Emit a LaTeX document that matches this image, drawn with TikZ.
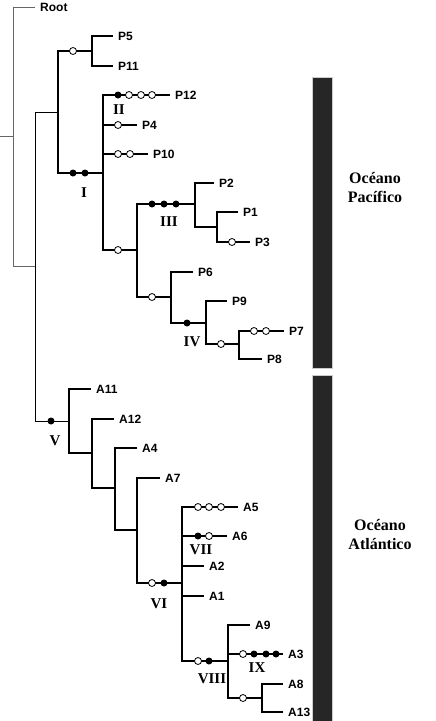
\documentclass[tikz,border=0pt]{standalone}
\usepackage{fontspec}
\setmainfont{Liberation Serif}
\newfontfamily\lsans{Liberation Sans}
\begin{document}
\begin{tikzpicture}[x=1pt,y=-1pt,
  br/.style={line width=1.3pt, black},
  rootbr/.style={line width=0.9pt, black!60},
  leaf/.style={anchor=west, inner xsep=5pt, inner ysep=0pt, font=\lsans\bfseries\fontsize{12}{14}\selectfont},
  oc/.style={circle, draw=black, fill=white, line width=0.8pt, minimum size=7pt, inner sep=0pt},
  bc/.style={circle, fill=black, minimum size=7pt, inner sep=0pt},
  clade/.style={font=\bfseries\fontsize{15}{17}\selectfont, inner sep=0pt},
  ocean/.style={font=\bfseries\fontsize{16}{19}\selectfont, align=center, inner sep=0pt},
  bar/.style={fill=black!85, draw=black!20, line width=0.4pt}]
\useasboundingbox (0,0) rectangle (436,721);

% internal nodes
\coordinate (rs) at (0,136);
\coordinate (r) at (13,136);
\coordinate (n0) at (35,266);
\coordinate (pac) at (58,112);
\coordinate (atl) at (69,421);
\coordinate (p511) at (92,51);
\coordinate (nI) at (103,173);
\coordinate (nB) at (137,250);
\coordinate (nIII) at (195,204);
\coordinate (nD) at (217,227);
\coordinate (nC) at (171,297);
\coordinate (nIV) at (206,323);
\coordinate (nE) at (239,344);
\coordinate (a2) at (92,453);
\coordinate (a3) at (115,488);
\coordinate (a4) at (137,530);
\coordinate (nVI) at (182,583);
\coordinate (nVIII) at (228,661);
\coordinate (nF) at (262,698);

% leaves
\node[leaf] (Root) at (35,7) {Root};
\node[leaf] (P5) at (113,36) {P5};
\node[leaf] (P11) at (113,66) {P11};
\node[leaf] (P12) at (170,95) {P12};
\node[leaf] (P4) at (137,125) {P4};
\node[leaf] (P10) at (148,154) {P10};
\node[leaf] (P2) at (214,183) {P2};
\node[leaf] (P1) at (238,212) {P1};
\node[leaf] (P3) at (250,242) {P3};
\node[leaf] (P6) at (193,272) {P6};
\node[leaf] (P9) at (227,301) {P9};
\node[leaf] (P7) at (284,331) {P7};
\node[leaf] (P8) at (262,359) {P8};
\node[leaf] (A11) at (91,389) {A11};
\node[leaf] (A12) at (114,419) {A12};
\node[leaf] (A4) at (137,448) {A4};
\node[leaf] (A7) at (160,478) {A7};
\node[leaf] (A5) at (238,507) {A5};
\node[leaf] (A6) at (227,536) {A6};
\node[leaf] (A2) at (204,566) {A2};
\node[leaf] (A1) at (204,596) {A1};
\node[leaf] (A9) at (250,625) {A9};
\node[leaf] (A3) at (283,654) {A3};
\node[leaf] (A8) at (283,684) {A8};
\node[leaf] (A13) at (283,712) {A13};

% root branches
\draw[rootbr] (rs) -- (r);
\draw[rootbr] (r) |- (Root.west);
\draw[rootbr] (r) |- (n0);
\draw[br, line width=1pt] (n0) |- (pac);
\draw[br, line width=1pt] (n0) |- (atl);

% Pacific
\draw[br] (pac) |- (p511);
\draw[br] (pac) |- (nI);
\draw[br] (p511) |- (P5.west);
\draw[br] (p511) |- (P11.west);
\draw[br] (nI) |- (P12.west);
\draw[br] (nI) |- (P4.west);
\draw[br] (nI) |- (P10.west);
\draw[br] (nI) |- (nB);
\draw[br] (nB) |- (nIII);
\draw[br] (nB) |- (nC);
\draw[br] (nIII) |- (P2.west);
\draw[br] (nIII) |- (nD);
\draw[br] (nD) |- (P1.west);
\draw[br] (nD) |- (P3.west);
\draw[br] (nC) |- (P6.west);
\draw[br] (nC) |- (nIV);
\draw[br] (nIV) |- (P9.west);
\draw[br] (nIV) |- (nE);
\draw[br] (nE) |- (P7.west);
\draw[br] (nE) |- (P8.west);

% Atlantic
\draw[br] (atl) |- (A11.west);
\draw[br] (atl) |- (a2);
\draw[br] (a2) |- (A12.west);
\draw[br] (a2) |- (a3);
\draw[br] (a3) |- (A4.west);
\draw[br] (a3) |- (a4);
\draw[br] (a4) |- (A7.west);
\draw[br] (a4) |- (nVI);
\draw[br] (nVI) |- (A5.west);
\draw[br] (nVI) |- (A6.west);
\draw[br] (nVI) |- (A2.west);
\draw[br] (nVI) |- (A1.west);
\draw[br] (nVI) |- (nVIII);
\draw[br] (nVIII) |- (A9.west);
\draw[br] (nVIII) |- (A3.west);
\draw[br] (nVIII) |- (nF);
\draw[br] (nF) |- (A8.west);
\draw[br] (nF) |- (A13.west);

% character markers, Pacific
\node[oc] (m1) at (73,51) {};
\node[bc] (m2) at (73,173) {};
\node[bc] (m3) at (85,173) {};
\node[bc] (m4) at (118,95) {};
\node[oc] (m5) at (129,95) {};
\node[oc] (m6) at (141,95) {};
\node[oc] (m7) at (152,95) {};
\node[oc] (m8) at (118,125) {};
\node[oc] (m9) at (118,154) {};
\node[oc] (m10) at (130,154) {};
\node[oc] (m11) at (118,250) {};
\node[bc] (m12) at (152,204) {};
\node[bc] (m13) at (164,204) {};
\node[bc] (m14) at (176,204) {};
\node[oc] (m15) at (232,242) {};
\node[oc] (m16) at (152,297) {};
\node[bc] (m17) at (187,323) {};
\node[oc] (m18) at (221,344) {};
\node[oc] (m19) at (254,331) {};
\node[oc] (m20) at (266,331) {};
% character markers, Atlantic
\node[bc] (m21) at (51,421) {};
\node[oc] (m22) at (152,583) {};
\node[bc] (m23) at (164,583) {};
\node[oc] (m24) at (198,507) {};
\node[oc] (m25) at (209,507) {};
\node[oc] (m26) at (221,507) {};
\node[bc] (m27) at (198,536) {};
\node[oc] (m28) at (209,536) {};
\node[oc] (m29) at (198,661) {};
\node[bc] (m30) at (209,661) {};
\node[oc] (m31) at (243,654) {};
\node[bc] (m32) at (254,654) {};
\node[bc] (m33) at (266,654) {};
\node[bc] (m34) at (276,654) {};
\node[oc] (m35) at (243,698) {};

% clade labels
\node[clade] (cI) at (84,193) {I};
\node[clade] (cII) at (119,110) {II};
\node[clade] (cIII) at (169,222) {III};
\node[clade] (cIV) at (192,342) {IV};
\node[clade] (cV) at (55,441) {V};
\node[clade] (cVI) at (159,604) {VI};
\node[clade] (cVII) at (201,550) {VII};
\node[clade] (cVIII) at (212,679) {VIII};
\node[clade] (cIX) at (257,668) {IX};

% ocean bars and labels
\fill[bar] (312,77) rectangle (332,368);
\fill[bar] (312,375) rectangle (332,721);
\node[ocean] (pacL) at (375,187.5) {Océano\\Pacífico};
\node[ocean] (atlL) at (380,534.5) {Océano\\Atlántico};
\end{tikzpicture}
\end{document}
